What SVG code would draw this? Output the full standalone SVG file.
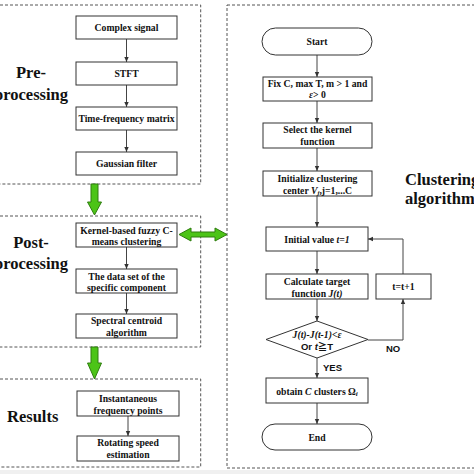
<svg xmlns="http://www.w3.org/2000/svg" width="474" height="474" viewBox="0 0 474 474">
<style>
.panel{fill:none;stroke:#555;stroke-width:1;stroke-dasharray:3,2}
.box{fill:#fff;stroke:#333;stroke-width:1}
.t{font-family:"Liberation Serif","Times New Roman",serif;font-weight:bold;font-size:9.7px;fill:#111;text-anchor:middle}
.s{font-family:"Liberation Sans",Arial,"Noto Sans CJK SC",sans-serif;font-weight:bold;font-size:9.5px;fill:#111}
.big{font-family:"Liberation Serif","Times New Roman",serif;font-weight:bold;font-size:16.5px;fill:#111}
.c{fill:none;stroke:#444;stroke-width:1}
.g{fill:#4cc417;stroke:#2e7d0f;stroke-width:1}
</style>
<defs>
<marker id="ah" markerWidth="6" markerHeight="6" refX="5" refY="3" orient="auto" markerUnits="userSpaceOnUse">
<path d="M0,0.8 L5,3 L0,5.2 Z" fill="#333"/>
</marker>
</defs>
<rect width="474" height="474" fill="#fff"/>
<rect y="470" width="474" height="4" fill="#f0f0f0"/>

<g id="panels">
<rect class="panel" x="-10" y="5" width="210.7" height="179"/>
<rect class="panel" x="-10" y="216" width="210.7" height="131"/>
<rect class="panel" x="-10" y="379" width="210.7" height="88"/>
<rect class="panel" x="227" y="5" width="260" height="463"/>
</g>

<g id="labels">
<text class="big" x="31" y="78" text-anchor="middle">Pre-</text>
<text class="big" x="31" y="100" text-anchor="middle">processing</text>
<text class="big" x="31" y="248" text-anchor="middle">Post-</text>
<text class="big" x="31" y="269" text-anchor="middle">processing</text>
<text class="big" x="7" y="422">Results</text>
<text class="big" x="405" y="185">Clustering</text>
<text class="big" x="405" y="204">algorithm</text>
</g>

<g id="green-arrows">
<polygon class="g" points="91,184 98,184 98,202 101.5,202 94.5,215 87.5,202 91,202"/>
<polygon class="g" points="91,347 98,347 98,363 101.5,363 94.5,379 87.5,363 91,363"/>
<polygon class="g" points="179,234.5 191,228 191,232 215,232 215,228 227,234.5 215,241 215,237 191,237 191,241"/>
</g>

<g id="connectors">
<line class="c" x1="126.5" y1="39" x2="126.5" y2="62" marker-end="url(#ah)"/>
<line class="c" x1="126.5" y1="85" x2="126.5" y2="107" marker-end="url(#ah)"/>
<line class="c" x1="126.5" y1="130" x2="126.5" y2="152" marker-end="url(#ah)"/>
<line class="c" x1="126.5" y1="247" x2="126.5" y2="269" marker-end="url(#ah)"/>
<line class="c" x1="126.5" y1="293" x2="126.5" y2="314" marker-end="url(#ah)"/>
<line class="c" x1="128" y1="416" x2="128" y2="436" marker-end="url(#ah)"/>
<line class="c" x1="317" y1="55" x2="317" y2="77" marker-end="url(#ah)"/>
<line class="c" x1="317" y1="101" x2="317" y2="123" marker-end="url(#ah)"/>
<line class="c" x1="317" y1="148" x2="317" y2="171" marker-end="url(#ah)"/>
<line class="c" x1="317" y1="196" x2="317" y2="227" marker-end="url(#ah)"/>
<line class="c" x1="317" y1="251" x2="317" y2="274" marker-end="url(#ah)"/>
<line class="c" x1="317" y1="299" x2="317" y2="321" marker-end="url(#ah)"/>
<line class="c" x1="317" y1="358" x2="317" y2="378" marker-end="url(#ah)"/>
<line class="c" x1="317" y1="403" x2="317" y2="424" marker-end="url(#ah)"/>
<polyline class="c" points="368,340 403,340 403,299" marker-end="url(#ah)"/>
<polyline class="c" points="403,274 403,239 368,239" marker-end="url(#ah)"/>
<text class="s" x="323" y="371">YES</text>
<text class="s" x="393" y="352" text-anchor="middle">NO</text>
</g>

<g id="complex"><rect class="box" x="76" y="16" width="101" height="23"/><text class="t" x="126.5" y="31">Complex signal</text></g>
<g id="stft"><rect class="box" x="76" y="62" width="101" height="23"/><text class="t" x="126.5" y="77">STFT</text></g>
<g id="tfmatrix"><rect class="box" x="76" y="107" width="101" height="23"/><text class="t" x="126.5" y="122">Time-frequency matrix</text></g>
<g id="gauss"><rect class="box" x="76" y="152" width="101" height="23"/><text class="t" x="126.5" y="167">Gaussian filter</text></g>
<g id="kfcm"><rect class="box" x="76" y="223" width="101" height="24"/><text class="t" x="126.5" y="233.5">Kernel-based fuzzy C-</text><text class="t" x="126.5" y="245">means clustering</text></g>
<g id="dataset"><rect class="box" x="76" y="269" width="101" height="24"/><text class="t" x="126.5" y="279.5">The data set of the</text><text class="t" x="126.5" y="291">specific component</text></g>
<g id="spectral"><rect class="box" x="76" y="314" width="101" height="24"/><text class="t" x="126.5" y="324">Spectral centroid</text><text class="t" x="126.5" y="336">algorithm</text></g>
<g id="instant"><rect class="box" x="77" y="391" width="102" height="25"/><text class="t" x="128" y="401.5">Instantaneous</text><text class="t" x="128" y="413.5">frequency points</text></g>
<g id="rotating"><rect class="box" x="77" y="436" width="102" height="25"/><text class="t" x="128" y="446">Rotating speed</text><text class="t" x="128" y="458">estimation</text></g>

<g id="start"><rect class="box" x="262" y="28" width="110" height="27" rx="13.5"/><text class="t" x="317" y="44.5">Start</text></g>
<g id="fix"><rect class="box" x="263" y="77" width="109" height="24"/><text class="t" x="317.5" y="86.5">Fix C, max T, m &gt; 1 and</text><text class="t" x="317.5" y="98"><tspan font-style="italic">ε</tspan>&gt; 0</text></g>
<g id="select"><rect class="box" x="263" y="123" width="109" height="25"/><text class="t" x="317.5" y="132.5">Select the kernel</text><text class="t" x="317.5" y="145">function</text></g>
<g id="initc"><rect class="box" x="263" y="171" width="109" height="25"/><text class="t" x="317.5" y="181.5">Initialize clustering</text><text class="t" x="317.5" y="193.5">center <tspan font-style="italic">V</tspan><tspan font-style="italic" font-size="7px" dy="1.5">j</tspan><tspan dy="-1.5">,j=1,...C</tspan></text></g>
<g id="initval"><rect class="box" x="266" y="227" width="102" height="24"/><text class="t" x="317" y="242.5">Initial value <tspan font-style="italic">t=1</tspan></text></g>
<g id="calc"><rect class="box" x="266" y="274" width="102" height="25"/><text class="t" x="317" y="284.5">Calculate target</text><text class="t" x="317" y="296.5">function <tspan font-style="italic">J(t)</tspan></text></g>
<g id="decision"><polygon class="box" points="266,339.5 317,321 368,339.5 317,358"/><text class="t" x="317" y="337.5" font-style="italic" font-size="9px">J(t)-J(t-1)&lt;ε</text><text class="s" x="317" y="350" text-anchor="middle">Or <tspan font-style="italic">t</tspan>≧T</text></g>
<g id="tinc"><rect class="box" x="376" y="274" width="55" height="25"/><text class="t" x="403.5" y="290">t=t+1</text></g>
<g id="obtain"><rect class="box" x="266" y="378" width="102" height="25"/><text class="t" x="317" y="394.5">obtain <tspan font-style="italic">C</tspan> clusters Ω<tspan font-style="italic" font-size="7px" dy="1.5">i</tspan></text></g>
<g id="end"><rect class="box" x="262" y="424" width="110" height="26" rx="13"/><text class="t" x="317" y="440.5">End</text></g>
</svg>
